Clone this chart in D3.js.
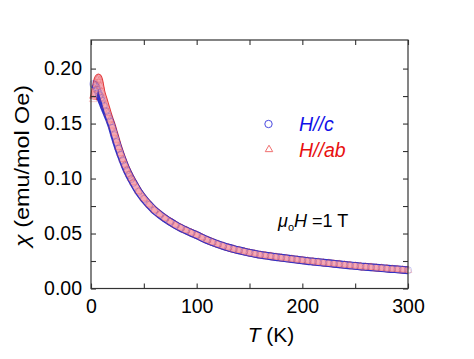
<!DOCTYPE html>
<html><head><meta charset="utf-8">
<script src="https://cdn.jsdelivr.net/npm/d3@7"></script>
<style>html,body{margin:0;padding:0;background:#fff}svg{display:block}text{font-family:"Liberation Sans",Arial,sans-serif}</style>
</head><body><svg id="c" width="474" height="359"></svg>
<script>
const temps = [2,3,4,5,6,7,8,9,10,12,14,16,18,20,22,24,26,28,30,32,34,36,38,40,45,50,55,60,65,70,75,80,85,90,95,100,105,110,115,120,125,130,135,140,145,150,155,160,165,170,175,180,185,190,195,200,205,210,215,220,225,230,235,240,245,250,255,260,265,270,275,280,285,290,295,300];
const chiHc = [0.186,0.1855,0.1848,0.183,0.1805,0.178,0.1757,0.1733,0.171,0.166,0.1613,0.1565,0.1518,0.146,0.1393,0.133,0.1271,0.1216,0.1165,0.1117,0.1073,0.1033,0.0996,0.0962,0.088,0.0815,0.076,0.071,0.0672,0.0637,0.0606,0.0577,0.0551,0.0528,0.0506,0.0485,0.0462,0.044,0.0421,0.0403,0.0387,0.0372,0.0359,0.0347,0.0336,0.0325,0.0316,0.0307,0.03,0.0293,0.0286,0.028,0.0274,0.0268,0.0262,0.0256,0.025,0.0245,0.024,0.0235,0.023,0.0225,0.022,0.0215,0.021,0.0206,0.0201,0.0197,0.0193,0.0189,0.0185,0.0181,0.0177,0.0174,0.017,0.0166];
const chiHab = [0.172,0.176,0.181,0.186,0.19,0.192,0.189,0.184,0.179,0.1725,0.166,0.1595,0.1535,0.148,0.1415,0.135,0.1285,0.1228,0.1175,0.1125,0.108,0.104,0.1002,0.0967,0.0884,0.0818,0.0763,0.0713,0.0674,0.0639,0.0607,0.0578,0.0552,0.0529,0.0507,0.0486,0.0463,0.0441,0.0421,0.0403,0.0387,0.0372,0.0359,0.0347,0.0336,0.0325,0.0316,0.0307,0.03,0.0293,0.0286,0.028,0.0274,0.0268,0.0262,0.0256,0.025,0.0245,0.024,0.0235,0.023,0.0225,0.022,0.0215,0.021,0.0206,0.0201,0.0197,0.0193,0.0189,0.0185,0.0181,0.0177,0.0174,0.017,0.0166];
const xTicks = [0,50,100,150,200,250,300];
const xLabels = [0,100,200,300];
const yTicks = [0,0.025,0.05,0.075,0.1,0.125,0.15,0.175,0.2];
const yLabels = [0,0.05,0.1,0.15,0.2];
const seriesNames = ["H//c","H//ab"];

const svg = d3.select("#c");
const L=91, R=408, T=40, B=288.5;
const x = d3.scaleLinear().domain([0,300]).range([L,R]);
const y = d3.scaleLinear().domain([0,0.226]).range([B,T]);
const frame = "#333";

const dc = temps.map((t,i)=>[t,chiHc[i]]);
const dab = temps.map((t,i)=>[t,chiHab[i]]);
const ln = d3.line().x(d=>x(d[0])).y(d=>y(d[1])).curve(d3.curveMonotoneX);

// bands formed by the dense markers
svg.append("path").attr("d",ln(dab)).attr("fill","none").attr("stroke","#e23434").attr("stroke-width",7.5).attr("stroke-linejoin","round");
svg.append("path").attr("d",ln(dc)).attr("fill","none").attr("stroke","#3333c4").attr("stroke-width",7.8).attr("stroke-linejoin","round");
svg.append("path").attr("d",ln(dab)).attr("fill","none").attr("stroke","#f6a9b3").attr("stroke-width",5.6).attr("stroke-linejoin","round");

// markers
svg.append("g").selectAll("circle").data(dc).join("circle")
  .attr("cx",d=>x(d[0])).attr("cy",d=>y(d[1])).attr("r",3.6)
  .attr("fill","none").attr("stroke","#3030d0").attr("stroke-width",0.8).attr("stroke-opacity",0.3);
const tri = d3.symbol().type(d3.symbolTriangle).size(26);
svg.append("g").selectAll("path").data(dab).join("path")
  .attr("transform",d=>`translate(${x(d[0])},${y(d[1])})`).attr("d",tri)
  .attr("fill","none").attr("stroke","#e04848").attr("stroke-width",0.8).attr("stroke-opacity",0.3);

// axes
const fs = "19.5px";
const ax = svg.append("g");
function styleAxis(g){g.select(".domain").remove();g.selectAll("line").attr("stroke",frame).attr("stroke-width",1.1);g.selectAll("text").attr("font-size",fs).attr("fill","#000");}
ax.append("g").attr("transform",`translate(0,${B})`).call(d3.axisBottom(x).tickValues(xTicks).tickSize(-5).tickPadding(11).tickFormat(d=>xLabels.includes(d)?d3.format("d")(d):"")).call(styleAxis);
ax.append("g").attr("transform",`translate(0,${T})`).call(d3.axisTop(x).tickValues(xTicks).tickSize(-5).tickFormat("")).call(styleAxis);
ax.append("g").attr("transform",`translate(${L},0)`).call(d3.axisLeft(y).tickValues(yTicks).tickSize(-5).tickPadding(9).tickFormat(d=>yLabels.some(v=>Math.abs(v-d)<1e-9)?d3.format(".2f")(d):"")).call(styleAxis);
ax.append("g").attr("transform",`translate(${R},0)`).call(d3.axisRight(y).tickValues(yTicks).tickSize(-5).tickFormat("")).call(styleAxis);
ax.selectAll("text").style("font-family","'Liberation Sans',Arial,sans-serif");
svg.append("rect").attr("x",L).attr("y",T).attr("width",R-L).attr("height",B-T).attr("fill","none").attr("stroke",frame).attr("stroke-width",1.2);

// titles
const xt = svg.append("text").attr("x",271).attr("y",342).attr("text-anchor","middle").attr("font-size","21px");
xt.append("tspan").attr("font-style","italic").text("T");
xt.append("tspan").text(" (K)");
const yt = svg.append("text").attr("transform","translate(29,247) rotate(-90)").attr("text-anchor","start")
  .attr("font-size","21px").attr("textLength",162).attr("lengthAdjust","spacingAndGlyphs");
yt.append("tspan").attr("font-style","italic").text("χ");
yt.append("tspan").text(" (emu/mol Oe)");

// legend
svg.append("circle").attr("cx",268.5).attr("cy",124).attr("r",3.7).attr("fill","none").attr("stroke","#4a4ae0").attr("stroke-width",1);
svg.append("path").attr("transform","translate(269,149.5)").attr("d",d3.symbol().type(d3.symbolTriangle).size(24)).attr("fill","none").attr("stroke","#f07070").attr("stroke-width",1);
svg.append("text").attr("x",299).attr("y",130.5).attr("font-size","19.5px").attr("font-style","italic").attr("fill","#1010e8").text(seriesNames[0]);
svg.append("text").attr("x",299).attr("y",156.5).attr("font-size","19.5px").attr("font-style","italic").attr("fill","#e80f0f").text(seriesNames[1]);

// field annotation
const an = svg.append("text").attr("x",278).attr("y",227).attr("font-size","18px");
an.append("tspan").attr("font-style","italic").text("μ");
an.append("tspan").attr("font-size","11px").attr("dy",4).text("o");
an.append("tspan").attr("font-style","italic").attr("dy",-4).text("H");
an.append("tspan").text(" =1  T");
</script></body></html>
